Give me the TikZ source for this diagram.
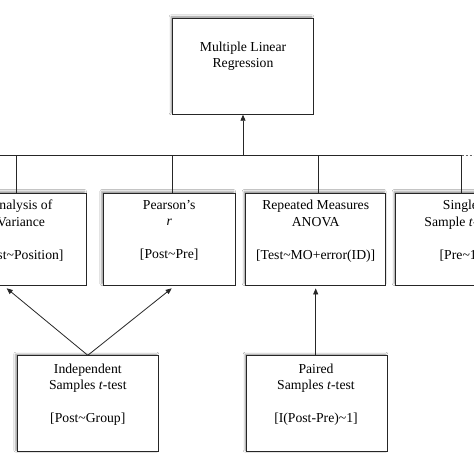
\documentclass[tikz,border=0pt]{standalone}
\usepackage{fontspec}
\setmainfont{Liberation Serif}
\usetikzlibrary{shadows.blur,arrows.meta}
\begin{document}
\begin{tikzpicture}[x=1pt,y=-1pt,
  box/.style={draw=black!85, line width=0.8pt, fill=white, rectangle, inner sep=0pt,
    blur shadow={shadow xshift=-1.5pt, shadow yshift=1.5pt, shadow blur radius=2pt, shadow opacity=45}},
  lbl/.style={font=\fontsize{13.7}{16.5}\selectfont, align=center, inner sep=0pt, anchor=north},
  conn/.style={draw=black!85, line width=0.8pt},
  arr/.style={conn, -{Triangle[length=6pt,width=5pt]}}]
\clip (0,0) rectangle (474,474);
\fill[white] (0,0) rectangle (474,474);
% boxes
\node[box, minimum width=140.6pt, minimum height=96pt] (mlr) at (243,66.3) {};
\node[box, minimum width=136pt, minimum height=92pt] (anova) at (18,239) {};
\node[box, minimum width=131.7pt, minimum height=92pt] (pear) at (169.2,239) {};
\node[box, minimum width=140pt, minimum height=92pt] (rep) at (315.7,239) {};
\node[box, minimum width=132pt, minimum height=92pt] (single) at (461.7,239) {};
\node[box, minimum width=141pt, minimum height=96pt] (ind) at (87.8,403.7) {};
\node[box, minimum width=140.6pt, minimum height=96pt] (pair) at (317,403.7) {};
% texts
\node[lbl] (mlrt) at (243,41.7) {Multiple Linear\\Regression};
\node[lbl] (anovat) at (21,200) {Analysis of\\Variance\\[16.5pt][Post\textasciitilde Position]};
\node[lbl] (peart) at (169.2,200) {Pearson’s\\\textit{r}\\[16.5pt][Post\textasciitilde Pre]};
\node[lbl] (rept) at (315.7,200) {Repeated Measures\\ANOVA\\[16.5pt][Test\textasciitilde MO+error(ID)]};
\node[lbl] (singlet) at (460.5,200) {Single\\Sample \textit{t}-test\\[16.5pt][Pre\textasciitilde 1]};
\node[lbl] (indt) at (87.8,363.3) {Independent\\Samples \textit{t}-test\\[16.5pt][Post\textasciitilde Group]};
\node[lbl] (pairt) at (316,363.3) {Paired\\Samples \textit{t}-test\\[16.5pt][I(Post-Pre)\textasciitilde 1]};
% connectors
\coordinate (hl) at (0,155);
\coordinate (hr) at (461.7,155);
\coordinate (hend) at (474,155);
\coordinate (hm) at (243,155);
\coordinate (v1) at (16,155);
\coordinate (v2) at (172,155);
\coordinate (v3) at (318.3,155);
\draw[conn] (hl) -- (hr);
\draw[draw=black!60, line width=0.6pt, dash pattern=on 2pt off 2pt] (hr) -- (hend);
\draw[arr] (hm) -- (mlr.south);
\draw[conn] (v1) -- (v1 |- anova.north);
\draw[conn] (v2) -- (v2 |- pear.north);
\draw[conn] (v3) -- (v3 |- rep.north);
\draw[conn] (hr) -- (hr |- single.north);
\coordinate (ta) at (6.7,288.3);
\coordinate (tp) at (171.7,288.3);
\draw[arr] (ind.north) -- (ta);
\draw[arr] (ind.north) -- (tp);
\draw[arr, shorten >=3pt] (pair.north -| 315.7,0) -- (rep.south -| 315.7,0);
\end{tikzpicture}
\end{document}
